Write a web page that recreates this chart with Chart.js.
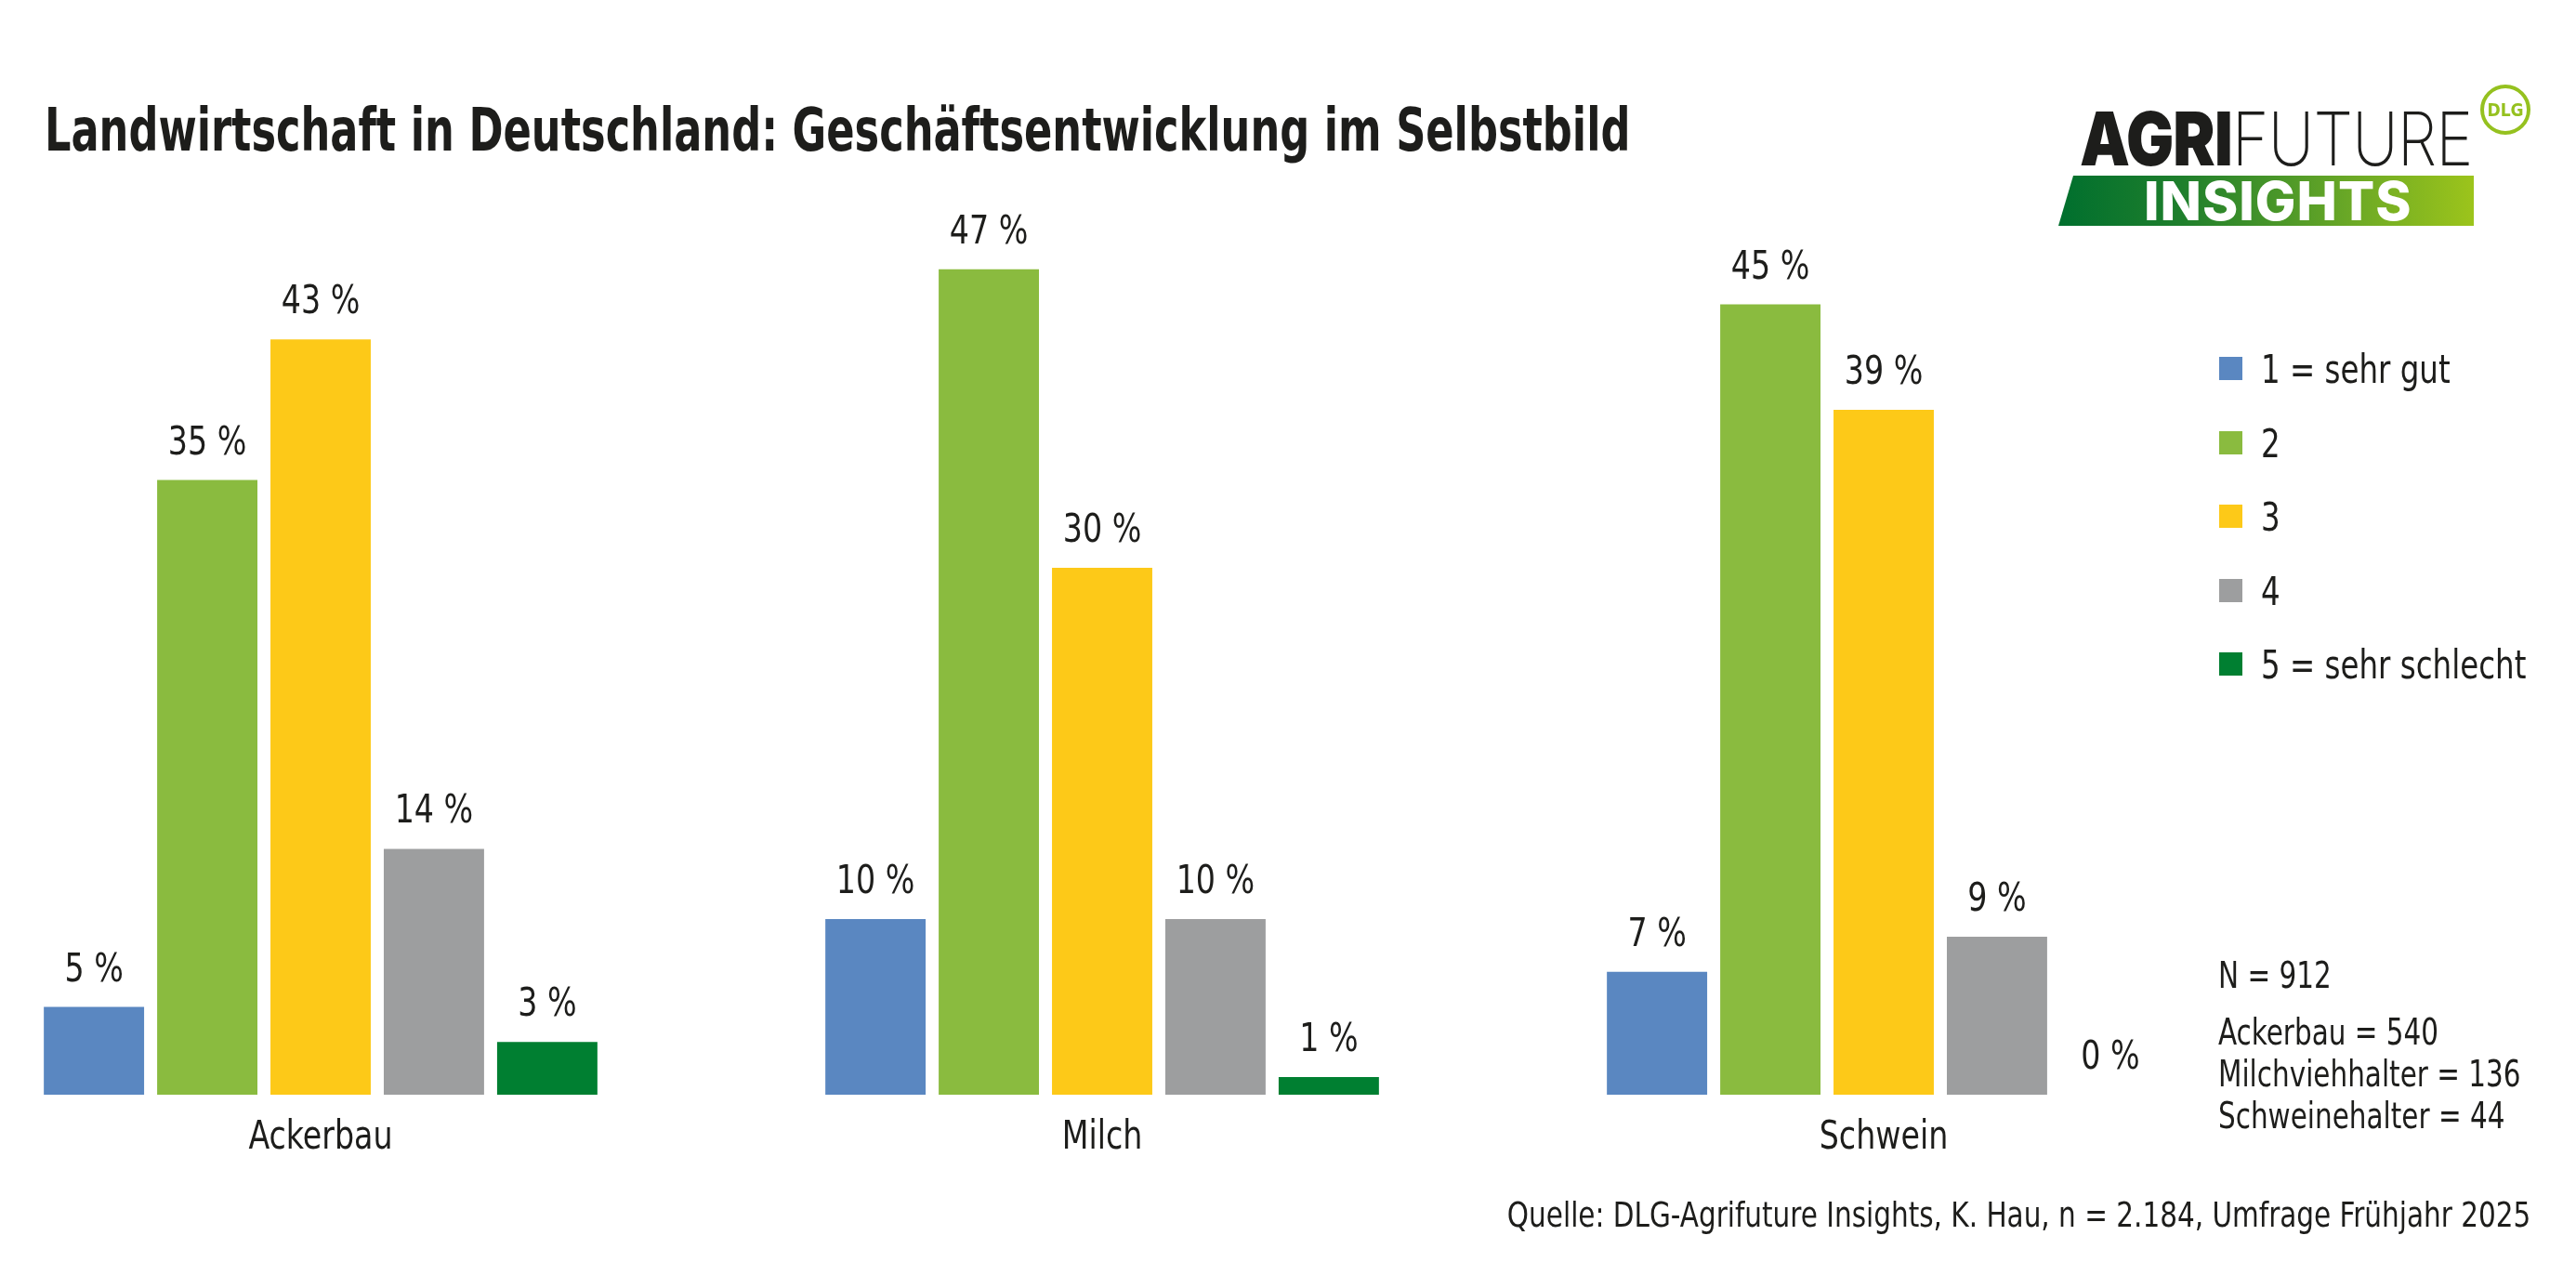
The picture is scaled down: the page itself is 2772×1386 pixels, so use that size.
<!DOCTYPE html>
<html lang="de">
<head>
<meta charset="utf-8">
<title>Landwirtschaft in Deutschland</title>
<script src="https://cdn.jsdelivr.net/npm/chart.js@4.4.1/dist/chart.umd.min.js"></script>
<style>
  html, body { margin: 0; padding: 0; background: #fff; }
  body { width: 2772px; height: 1386px; position: relative; overflow: hidden; color: #1d1d1b;
         font-family: "DejaVu Sans Condensed", sans-serif; }
  #chart { position: absolute; left: 0; top: 0; }
  .narrow { transform: scaleX(0.84); transform-origin: 0 0; }
  .title { position: absolute; left: 48px; top: 108px; font-size: 64px; line-height: 64px;
           font-weight: bold; white-space: nowrap; transform: scaleX(0.776); transform-origin: 0 0; }
  .legend-item { position: absolute; left: 2388px; height: 50px; line-height: 50px; font-size: 43px; white-space: nowrap; }
  .legend-item span.box { position: absolute; left: 0; top: 12px; width: 25px; height: 25px; }
  .legend-item span.txt { position: absolute; left: 45px; top: 0; }
  .note { position: absolute; left: 2387px; font-size: 39px; line-height: 45px; white-space: nowrap; }
  .source { position: absolute; right: 49px; top: 1285px; font-size: 38px; line-height: 45px; white-space: nowrap;
            transform: scaleX(0.863); transform-origin: 100% 0; }
  /* logo */
  .logo-top { position: absolute; left: 2238px; top: 106px; font-family: Inter, "Open Sans", sans-serif;
              font-size: 80px; line-height: 86px; white-space: nowrap; color: #1d1d1b; letter-spacing: -1px;
              transform: scaleX(0.85); transform-origin: 0 0; }
  .logo-top b { font-weight: 900; }
  .logo-top span { font-weight: 200; }
  .banner { position: absolute; left: 2215px; top: 189px; width: 447px; height: 54px;
            background: linear-gradient(90deg, #006f2e 0%, #1f7f2c 30%, #6aa826 70%, #9cc41b 100%);
            clip-path: polygon(16px 0, 100% 0, 100% 100%, 0 100%); }
  .banner div { position: absolute; left: 92px; top: 0; font-family: Inter, "Open Sans", sans-serif;
                font-weight: 800; font-size: 58px; line-height: 54px; color: #fff; letter-spacing: 1px; }
  .dlg { position: absolute; left: 2669px; top: 91px; width: 46px; height: 46px; border: 4px solid #95c11f;
         border-radius: 50%; color: #95c11f; font-weight: bold;
         font-size: 19px; line-height: 46px; text-align: center; }
</style>
</head>
<body>
<canvas id="chart" width="2772" height="1386"></canvas>
<div class="title">Landwirtschaft in Deutschland: Geschäftsentwicklung im Selbstbild</div>
<div class="logo-top"><b>AGRI</b><span>FUTURE</span></div>
<div class="banner"><div>INSIGHTS</div></div>
<div class="dlg">DLG</div>
<div id="legend"></div>
<div id="notes"></div>
<div class="source">Quelle: DLG-Agrifuture Insights, K. Hau, n = 2.184, Umfrage Frühjahr 2025</div>

<script>
// Data
const categories = ["Ackerbau", "Milch", "Schwein"];
const ratingNames = ["1 = sehr gut", "2", "3", "4", "5 = sehr schlecht"];
const rating1 = [5, 10, 7];
const rating2 = [35, 47, 45];
const rating3 = [43, 30, 39];
const rating4 = [14, 10, 9];
const rating5 = [3, 1, 0];
const ratingColors = ["#5a87c1", "#8abb3f", "#fdc918", "#9d9e9f", "#007f31"];
const sampleNotes = ["N = 912", "Ackerbau = 540", "Milchviehhalter = 136", "Schweinehalter = 44"];

const seriesValues = [rating1, rating2, rating3, rating4, rating5];
const FONT = '"DejaVu Sans Condensed", sans-serif';
const SQUEEZE = 0.86; // no narrow font installed, so squeeze canvas text a bit

function drawNarrowText(ctx, text, x, y) {
    ctx.save();
    ctx.translate(x, y);
    ctx.scale(SQUEEZE, 1);
    ctx.fillText(text, 0, 0);
    ctx.restore();
}

// Value labels above the bars, category names under the groups
const barLabels = {
    id: "barLabels",
    afterDatasetsDraw(chart) {
        const ctx = chart.ctx;
        ctx.save();
        ctx.font = `43px ${FONT}`;
        ctx.fillStyle = "#1d1d1b";
        ctx.textAlign = "center";
        ctx.textBaseline = "alphabetic";
        chart.data.datasets.forEach((ds, i) => {
            chart.getDatasetMeta(i).data.forEach((bar, j) => {
                drawNarrowText(ctx, `${ds.data[j]} %`, bar.x, bar.y - 28);
            });
        });
        const xScale = chart.scales.x;
        chart.data.labels.forEach((lab, i) => {
            drawNarrowText(ctx, lab, xScale.getPixelForTick(i), chart.chartArea.bottom + 58);
        });
        ctx.restore();
    },
};

const ctx = document.getElementById("chart").getContext("2d");
const chart = new Chart(ctx, {
    type: "bar",
    data: {
        labels: categories,
        datasets: seriesValues.map((vals, i) => ({
            label: ratingNames[i],
            data: vals,
            backgroundColor: ratingColors[i],
            borderWidth: 0,
            categoryPercentage: 0.725,
            barPercentage: 0.885,
            clip: false,
        })),
    },
    options: {
        responsive: false,
        animation: false,
        layout: { padding: { left: 345, right: 745, top: 233, bottom: 208 } },
        plugins: {
            legend: { display: false },
            tooltip: { enabled: false },
        },
        scales: {
            x: { display: false, offset: false },
            y: { display: false, min: 0, max: 50 },
        },
    },
    plugins: [barLabels],
});

// Legend built from the series names and colours
const legendEl = document.getElementById("legend");
ratingNames.forEach((name, i) => {
    const item = document.createElement("div");
    item.className = "legend-item";
    item.style.top = `${372 + i * 79.5}px`;
    item.innerHTML = `<span class="box" style="background:${ratingColors[i]}"></span><span class="txt narrow">${name}</span>`;
    legendEl.appendChild(item);
});

// Sample size notes
const notesEl = document.getElementById("notes");
const noteTops = [1027, 1088, 1133, 1178];
sampleNotes.forEach((t, i) => {
    const n = document.createElement("div");
    n.className = "note narrow";
    n.style.top = `${noteTops[i]}px`;
    n.textContent = t;
    notesEl.appendChild(n);
});
</script>
</body>
</html>
